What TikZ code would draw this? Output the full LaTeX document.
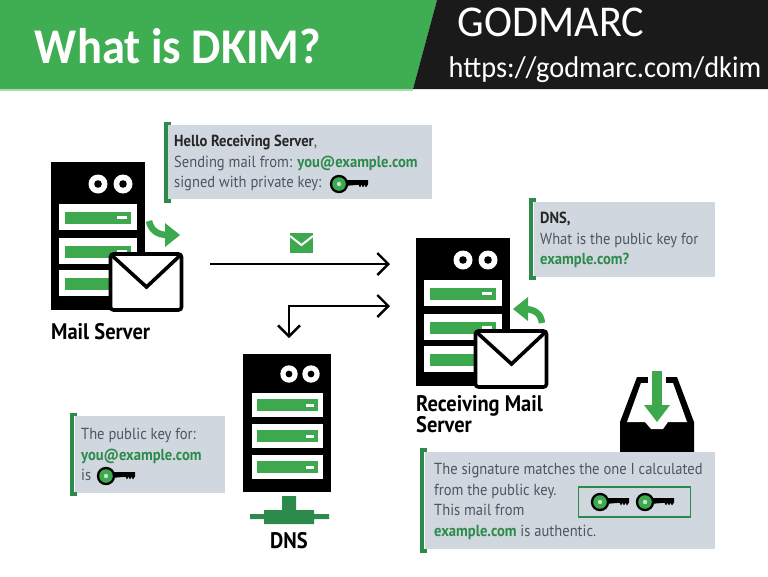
\documentclass[tikz,border=0pt]{standalone}
\usepackage{fontspec}
\setmainfont[FakeStretch=0.91]{PT Sans}
\newfontfamily\hdfont{Carlito}
\usetikzlibrary{arrows.meta}
\definecolor{hgreen}{HTML}{3FAE52}
\definecolor{dgreen}{HTML}{2C8A4A}
\definecolor{lgreen}{HTML}{3EA84F}
\definecolor{bubble}{HTML}{D0D7DE}
\definecolor{txt}{HTML}{4C5661}
\definecolor{dark}{HTML}{1A1A1A}
\newcommand{\gr}[1]{\textcolor{dgreen}{\bfseries #1}}
\tikzset{
  x=1pt,y=-1pt,
  bubtext/.style={inner sep=0pt,anchor=north west,align=left,text=txt,font=\fontsize{16}{20.6}\selectfont},
  lbl/.style={inner sep=0pt,anchor=west,align=left,text=black,font=\fontsize{22.5}{21.5}\selectfont\bfseries},
  barb/.style={Straight Barb[length=11pt,width=22pt,line width=2.4pt]},
  link/.style={draw=black,line width=2.4pt},
  curvearrow/.style={draw=lgreen,line width=6.5pt},
  brk/.style={draw=dgreen,line width=3.6pt},
  pics/keyicon/.style={code={
    \fill[black] (0,0) circle (9.2);
    \fill[lgreen] (0,0) circle (6.8);
    \fill[white!70!lgreen] (0,0) circle (2.2);
    \fill[black] (7,-4) -- (29,-4) -- (29,0.5) -- (27,3.4) -- (25.5,0.8) -- (24,3.4) -- (22.5,0.8) -- (21,3.4) -- (19.5,0.8) -- (7,1.8) -- cycle;
  }},
  pics/server/.style={code={
    \fill[black] (0,0) rectangle (94,148);
    \fill[white] (47,22) circle (9.5) (72,22) circle (9.5);
    \fill[black] (47,22) circle (3.8) (72,22) circle (3.8);
    \foreach \t in {41.5,75.5,108}{
      \fill[white] (8,\t) rectangle (86,\t+26);
      \fill[lgreen] (14,\t+8) rectangle (80,\t+20);
      \fill[white] (66,\t+12) rectangle (76,\t+15);
    }
  }},
  pics/mailicon/.style={code={
    \draw[black,line width=3.6pt,fill=white,rounded corners=3pt] (0,0) rectangle (71,56);
    \draw[black,line width=3.6pt,line join=miter] (2,2) -- (36,33) -- (69,2);
  }},
}
\begin{document}
\begin{tikzpicture}
\useasboundingbox (0,0) rectangle (768,576);
\fill[white] (0,0) rectangle (768,576);
% header
\fill[hgreen] (0,0) -- (437,0) -- (413,89) -- (0,89) -- cycle;
\fill[dark] (437,0) -- (768,0) -- (768,89) -- (413,89) -- cycle;
\fill[hgreen!45!white] (0,89) rectangle (413,91);
\node[inner sep=0pt,anchor=center,text=white] (title) at (178,46) {\scalebox{0.93}[1]{\hdfont\fontsize{50}{50}\selectfont\bfseries What is DKIM?}};
\node[inner sep=0pt,anchor=center,text=white] (brand) at (551,22) {\scalebox{0.96}[1]{\hdfont\fontsize{44}{44}\selectfont GODMARC}};
\node[inner sep=0pt,anchor=center,text=white] (url) at (605,70) {\scalebox{0.945}[1]{\hdfont\fontsize{30}{31}\selectfont https://godmarc.com/dkim}};

% mail server
\pic at (51,162) {server};
\draw[curvearrow] (149,221) .. controls (151,230) and (157,235) .. (168,235);
\fill[lgreen] (165,223) -- (180,235) -- (165,247) -- cycle;
\pic at (110.5,254) {mailicon};
\node[lbl] (mslabel) at (51,332) {Mail Server};

% bubble 1
\fill[bubble] (168,125) rectangle (432,199);
\draw[brk] (171,123.5) -- (166,123.5) -- (166,201) -- (171,201);
\node[bubtext] (b1) at (174,135) {\textcolor{black!85}{\bfseries Hello Receiving Server},\\Sending mail from: \gr{you@example.com}\\signed with private key:};
\pic at (339,184) {keyicon};

% connectors
\fill[lgreen] (290,233) rectangle (313,253);
\draw[white,line width=2pt] (290,236) -- (301.5,245) -- (313,236);
\coordinate (a1s) at (210,264);
\coordinate (a1e) at (390,264);
\coordinate (a2s) at (390,306);
\coordinate (a2e) at (289,338);
\draw[link,-{Straight Barb[length=11pt,width=22pt,line width=2.4pt]}] (a1s) -- (a1e);
\draw[link,{Straight Barb[length=11pt,width=22pt,line width=2.4pt]}-{Straight Barb[length=11pt,width=22pt,line width=2.4pt]}] (a2s) -| (a2e);

% receiving server
\pic at (416,238) {server};
\draw[curvearrow] (542,323) .. controls (541,314) and (535,309) .. (524,309);
\fill[lgreen] (528,297) -- (513,309) -- (528,321) -- cycle;
\pic at (475.5,331) {mailicon};
\node[lbl] (rslabel) at (416,414) {Receiving Mail\\Server};

% bubble 2
\fill[bubble] (534,202) rectangle (715,277);
\draw[brk] (536,200) -- (531,200) -- (531,278) -- (536,278);
\node[bubtext] (b2) at (540,212) {\textcolor{black!85}{\bfseries DNS,}\\What is the public key for\\\gr{example.com?}};

% DNS server
\fill[black] (243,354) rectangle (331,492);
\fill[white] (289,374) circle (8.7) (311,374) circle (8.7);
\fill[black] (289,374) circle (3.4) (311,374) circle (3.4);
\foreach \t in {393,424,455}{
  \fill[white] (252,\t) rectangle (323,\t+24);
  \fill[lgreen] (257,\t+6) rectangle (318,\t+18);
  \fill[white] (306,\t+10.5) rectangle (314,\t+13.5);
}
\fill[dgreen] (282,496) rectangle (296,510) (264,510) rectangle (314,524) (250,514) rectangle (329,519);
\node[lbl,anchor=center] (dnslabel) at (289,541) {DNS};

% bubble 4
\fill[bubble] (75,416) rectangle (225,493);
\draw[brk] (77,414.5) -- (72,414.5) -- (72,494) -- (77,494);
\node[bubtext] (b4) at (81,428) {The public key for:\\\gr{you@example.com}\\is};
\pic at (106,476) {keyicon};

% inbox
\fill[black] (620,453) -- (620,422) -- (637,377) -- (677,377) -- (694,422) -- (694,453) -- cycle;
\fill[white] (641,383) -- (673,383) -- (687,422) -- (668,422) -- (663,429) -- (651,429) -- (645,422) -- (627,422) -- cycle;
\fill[white] (648,370) rectangle (666,384);
\fill[lgreen] (652,371) rectangle (662,407);
\fill[lgreen] (644,405) -- (670,405) -- (657,422) -- cycle;

% bubble 3
\fill[bubble] (425,452) rectangle (715,549);
\draw[brk] (427,450) -- (422,450) -- (422,551) -- (427,551);
\node[bubtext] (b3) at (434,463) {The signature matches the one I calculated\\from the public key.\\This mail from\\\gr{example.com} is authentic.};
\draw[dgreen,line width=1.2pt] (578.5,487) rectangle (690.5,517);
\pic at (600,502) {keyicon};
\pic at (645,502) {keyicon};
\end{tikzpicture}
\end{document}
